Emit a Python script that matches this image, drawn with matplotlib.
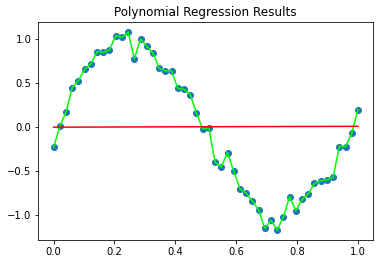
import numpy as np
import matplotlib
matplotlib.use('Agg')
import matplotlib.pyplot as plt

# sample points (noisy sine), 50 evenly spaced x values
x = np.linspace(0, 1, 50)
y = [-0.23, 0.01, 0.17, 0.45, 0.53, 0.66, 0.72, 0.86, 0.85, 0.88,
     1.04, 1.02, 1.08, 0.78, 1.00, 0.92, 0.84, 0.67, 0.64, 0.64,
     0.44, 0.43, 0.37, 0.16, -0.02, -0.01, -0.40, -0.45, -0.29, -0.50,
     -0.70, -0.75, -0.84, -0.94, -1.15, -1.06, -1.17, -1.02, -0.79, -0.95,
     -0.82, -0.76, -0.64, -0.61, -0.60, -0.57, -0.22, -0.22, -0.07, 0.20]

# fitted regression line
fit_x = [0.0, 1.0]
fit_y = [0.0, 0.01]

fig = plt.figure(figsize=(380 / 72, 264 / 72), dpi=72)
ax = fig.add_axes([0.101, 0.091, 0.881, 0.8245])

ax.scatter(x, y)
ax.plot(x, y, color='lime')
ax.plot(fit_x, fit_y, color='red')
ax.set_title('Polynomial Regression Results')

plt.savefig('out.png', dpi=72)
